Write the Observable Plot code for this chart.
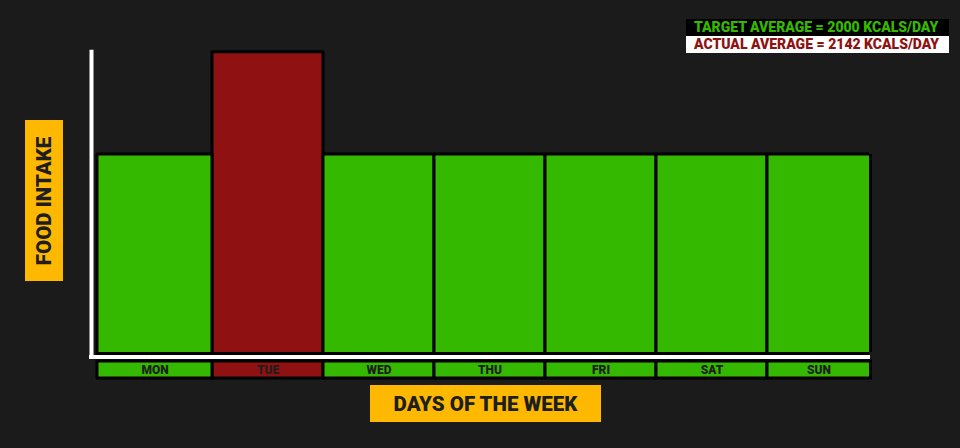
<!DOCTYPE html>
<html>
<head>
<meta charset="utf-8">
<script src="https://cdn.jsdelivr.net/npm/d3@7"></script>
<script src="https://cdn.jsdelivr.net/npm/@observablehq/plot@0.6"></script>
<style>
  html, body { margin: 0; padding: 0; background: #1b1b1b; }
  #wrap { position: relative; width: 960px; height: 448px; overflow: hidden; font-family: Roboto, "Noto Sans", sans-serif; }
  #chart svg { display: block; }
  .box { position: absolute; box-sizing: border-box; font-weight: 900; white-space: nowrap; }
  .legend { left: 686px; width: 263px; font-size: 14px; padding-left: 8px; display: flex; align-items: center; }
  .target { top: 19px; height: 16.5px; background: #000; color: #37b800; }
  .actual { top: 35.5px; height: 17.5px; background: #fff; color: #8f1111; }
  .title { background: #ffb800; color: #1e1e1e; font-size: 20.5px; }
  .ytitle { left: 25px; top: 120px; width: 38px; height: 161px; }
  .ytitle span { position: absolute; left: 50%; top: 50%; transform: translate(-50%, -50%) rotate(-90deg); }
  .xtitle { left: 370px; top: 385px; width: 231px; height: 37px; display: flex; align-items: center; justify-content: center; }
</style>
</head>
<body>
<div id="wrap">
  <div id="chart"></div>
</div>
<script>
// ---- data ----
const days = ["MON", "TUE", "WED", "THU", "FRI", "SAT", "SUN"];
const intake = [2000, 3025, 2000, 2000, 2000, 2000, 2000];
const targetAverage = 2000;
const actualAverage = 2142;
const legendLabels = [
  `TARGET AVERAGE = ${targetAverage} KCALS/DAY`,
  `ACTUAL AVERAGE = ${actualAverage} KCALS/DAY`
];
const axisTitles = { x: "DAYS OF THE WEEK", y: "FOOD INTAKE" };

// ---- style ----
const GREEN = "#35b900", RED = "#8f1111";
const table = days.map((d, i) => ({ day: d, kcal: intake[i] }));
const fillOf = d => d.kcal > targetAverage ? RED : GREEN;
const firstDay = days[0], lastDay = days[days.length - 1];
const firstRow = table.filter(d => d.day === firstDay);
const lastRow = table.filter(d => d.day === lastDay);
const innerRows = table.filter(d => d.day !== firstDay && d.day !== lastDay);

// layout constants (in y data units, below the baseline for the label strip)
const stripTop = -75, stripBottom = -245, stripMid = -160;
const xRange = [100.5, 877.5];
const band = (xRange[1] - xRange[0]) / days.length;
const axisX = 90.5, rightEdge = 869.5, leftExt = 4;
const edgeDx = rightEdge - (xRange[0] + band * (days.length - 0.5));
const lastLabelDx = (rightEdge - xRange[1]) / 2;

const barStyle = { x: "day", fill: fillOf, stroke: "#000", strokeWidth: 3, strokeLinejoin: "round", clip: true };
const labelStyle = { x: "day", y: stripMid, text: "day", fill: "#1e1e1e", fontSize: 12, fontWeight: 900 };

const chart = Plot.plot({
  width: 960,
  height: 448,
  marginLeft: 89,
  marginRight: 91,
  marginTop: 40,
  marginBottom: 60,
  style: { background: "transparent", fontFamily: "Roboto, sans-serif", overflow: "visible" },
  x: { domain: days, range: xRange, padding: 0, axis: null },
  y: { domain: [0, 3025], range: [353.5, 51.7], axis: null },
  marks: [
    // bars
    Plot.barY(innerRows, { ...barStyle, y1: 0, y2: "kcal" }),
    Plot.barY(lastRow, { ...barStyle, y1: 0, y2: "kcal" }),
    Plot.barY(firstRow, { ...barStyle, y1: 0, y2: "kcal", insetLeft: -leftExt }),
    // tick label strip
    Plot.barY(innerRows, { ...barStyle, y1: stripTop, y2: stripBottom }),
    Plot.barY(lastRow, { ...barStyle, y1: stripTop, y2: stripBottom }),
    Plot.barY(firstRow, { ...barStyle, y1: stripTop, y2: stripBottom, insetLeft: -leftExt }),
    // right outline of the last (clipped) bar and label box
    Plot.ruleX(lastRow, { x: "day", y1: 0, y2: "kcal", stroke: "#000", strokeWidth: 3, dx: edgeDx, insetTop: -1.5 }),
    Plot.ruleX(lastRow, { x: "day", y1: stripTop, y2: stripBottom, stroke: "#000", strokeWidth: 3, dx: edgeDx, insetTop: -1.5, insetBottom: -1.5 }),
    // tick labels
    Plot.text(innerRows, labelStyle),
    Plot.text(firstRow, { ...labelStyle, dx: -leftExt / 2 }),
    Plot.text(lastRow, { ...labelStyle, dx: lastLabelDx }),
    // axis lines
    Plot.ruleY([0], { stroke: "#fff", strokeWidth: 4, dy: 3, insetRight: -1 }),
    Plot.ruleX([firstDay], {
      y1: -50, y2: 3045, stroke: "#fff", strokeWidth: 4,
      dx: axisX - (xRange[0] + band / 2)
    })
  ]
});
document.getElementById("chart").appendChild(chart);

const wrap = document.getElementById("wrap");
function addBox(cls, text, inner) {
  const el = document.createElement("div");
  el.className = "box " + cls;
  if (inner) { const s = document.createElement("span"); s.textContent = text; el.appendChild(s); }
  else el.textContent = text;
  wrap.appendChild(el);
}
addBox("legend target", legendLabels[0]);
addBox("legend actual", legendLabels[1]);
addBox("title ytitle", axisTitles.y, true);
addBox("title xtitle", axisTitles.x);
</script>
</body>
</html>
